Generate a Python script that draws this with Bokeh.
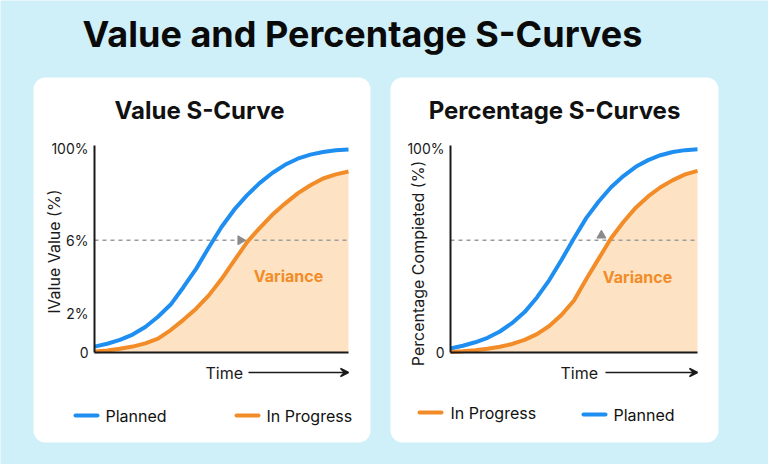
from math import pi
from bokeh.plotting import figure
from bokeh.models import Range1d, Label, BoxAnnotation, Arrow, VeeHead
from bokeh.core.properties import value
from bokeh.embed import file_html
from bokeh.resources import INLINE

# ---------------- data ----------------
time = [0.0, 0.5, 1.0, 1.5, 2.0, 2.5, 3.0, 3.5, 4.0, 4.5, 5.0,
        5.5, 6.0, 6.5, 7.0, 7.5, 8.0, 8.5, 9.0, 9.5, 10.0]

value_planned = [2.9, 4.3, 6.2, 8.8, 12.5, 17.5, 23.5, 32, 41, 51.5, 61.5,
                 70, 77, 83, 88, 92, 95, 97, 98.3, 99.1, 99.5]
value_in_progress = [0.5, 1.0, 1.8, 2.9, 4.5, 6.8, 11, 16, 21.5, 28, 36,
                     45, 54, 61, 67.5, 73, 78, 82, 85.3, 87.3, 88.7]

pct_planned = [2.0, 3.3, 5.0, 7.2, 10.3, 14.5, 19.8, 27, 35.5, 45.5, 56,
               66, 74, 81, 86.5, 91, 94.3, 96.7, 98.3, 99.2, 99.6]
pct_in_progress = [0.3, 0.6, 1.1, 1.8, 2.8, 4.2, 6.2, 9, 13, 18.5, 25.5,
                   36, 46, 56, 64, 71, 76.5, 81, 84.5, 87.3, 89.0]

value_ticks = [0, 19, 55, 100]
value_tick_labels = ["0", "2%", "6%", "100%"]
pct_ticks = [0, 100]
pct_tick_labels = ["0", "100%"]

reference_level = 55          # dashed line level (both charts)
value_marker_time = 5.75      # arrow marker on the dashed line
pct_marker_time = 6.11
pct_marker_level = 57.4

# ---------------- style ----------------
BG = "#cff0f9"
BLUE = "#1f8ef1"
ORANGE = "#f28c28"
FILL = "#fde3c3"
DARK = "#1a1a1a"
GREY = "#9c9c9c"
FONT = "Inter"

W, H = 768, 464
FT, FB = 148, 352  # chart frame top/bottom in page pixels

# page-pixel coordinate system for the whole canvas (y downwards)
p = figure(width=W, height=H, x_range=Range1d(0, W), y_range=Range1d(H, 0),
           output_backend="svg", toolbar_location=None,
           x_axis_location=None, y_axis_location=None, min_border=0,
           border_fill_color=BG, background_fill_color=BG, outline_line_color=None)
p.grid.visible = False

p.add_layout(Label(x=362, y=33, text="Value and Percentage S-Curves", text_align="center",
                   text_baseline="middle", text_font=FONT, text_font_style="bold",
                   text_font_size="36px", text_color="#0a0a0a"))


def chart(name, fl, fr, panel_l, panel_r, title, title_x, ylabel, ylabel_x, ylabel_y,
          planned, progress, ticks, tick_labels, marker, legend, time_x, var_xy):
    # data ranges for this chart: time 0..10 -> fl..fr px, value 0..100 -> FB..FT px
    sx = (fr - fl) / 10.0
    sy = (FB - FT) / 100.0
    xr, yr = name + "_x", name + "_y"
    p.extra_x_ranges[xr] = Range1d(-fl / sx, (W - fl) / sx)
    p.extra_y_ranges[yr] = Range1d((FB - H) / sy, FB / sy)
    kw = dict(x_range_name=xr, y_range_name=yr)

    # white rounded panel
    p.add_layout(BoxAnnotation(left=panel_l, right=panel_r, top=77, bottom=442,
                               fill_color="white", fill_alpha=1.0, line_color=None,
                               border_radius=12, level="underlay"))

    # curves
    p.varea(x=time, y1=0, y2=progress, fill_color=FILL, fill_alpha=1.0, **kw)
    p.line(x=[0, 10], y=[reference_level, reference_level], line_color=GREY,
           line_width=1.5, line_dash="4 4", **kw)
    p.line(x=time, y=planned, line_color=BLUE, line_width=4, **kw)
    p.line(x=time, y=progress, line_color=ORANGE, line_width=4, **kw)
    mx, my, mang = marker
    p.scatter(x=[mx], y=[my], marker="triangle", size=9, angle=mang,
              fill_color="#8a8a8a", line_color="#8a8a8a", **kw)

    # axes
    p.line(x=[0, 0], y=[0, 101.5], line_color=DARK, line_width=2, **kw)
    p.line(x=[0, 10], y=[0, 0], line_color=DARK, line_width=2, **kw)
    p.text(x=[0] * len(ticks), y=ticks, text=tick_labels, x_offset=-6,
           text_align="right", text_baseline="middle", text_font=value(FONT),
           text_font_size="14px", text_color=DARK, **kw)

    # titles / labels
    p.add_layout(Label(x=title_x, y=110, text=title, text_align="center",
                       text_baseline="middle", text_font=FONT, text_font_style="bold",
                       text_font_size="24px", text_color="#111111"))
    p.add_layout(Label(x=ylabel_x, y=ylabel_y, text=ylabel, angle=pi / 2,
                       text_align="center", text_baseline="middle", text_font=FONT,
                       text_font_size="16px", text_color=DARK))
    p.add_layout(Label(x=var_xy[0], y=var_xy[1], text="Variance", text_align="center",
                       text_baseline="middle", text_font=FONT, text_font_style="bold",
                       text_font_size="16px", text_color=ORANGE))

    # Time arrow
    tx0, ax0, ax1 = time_x
    p.add_layout(Label(x=tx0, y=372, text="Time", text_align="left",
                       text_baseline="middle", text_font=FONT, text_font_size="16px",
                       text_color=DARK))
    p.add_layout(Arrow(x_start=ax0, y_start=372, x_end=ax1, y_end=372,
                       line_color=DARK, line_width=1.5,
                       end=VeeHead(size=8, fill_color=DARK, line_color=DARK, line_width=1.5)))

    # legend
    for (bx, by, color, label, lx) in legend:
        p.add_layout(BoxAnnotation(left=bx, right=bx + 26, top=by - 2, bottom=by + 2,
                                   fill_color=color, fill_alpha=1.0, line_color=None,
                                   border_radius=2, level="annotation"))
        p.add_layout(Label(x=lx, y=by, text=label, text_align="left",
                           text_baseline="middle", text_font=FONT, text_font_size="16px",
                           text_color="#111111"))


chart("value", fl=94, fr=348, panel_l=33, panel_r=370,
      title="Value S-Curve", title_x=199, ylabel="lValue Value (%)",
      ylabel_x=53, ylabel_y=251,
      planned=value_planned, progress=value_in_progress,
      ticks=value_ticks, tick_labels=value_tick_labels,
      marker=(value_marker_time, reference_level, -pi / 2),
      legend=[(73, 415, BLUE, "Planned", 105), (234, 415, ORANGE, "In Progress", 266)],
      time_x=(205, 248, 348), var_xy=(288, 275))

chart("pct", fl=450, fr=697, panel_l=390, panel_r=718,
      title="Percentage S-Curves", title_x=554, ylabel="Percentage Compieted (%)",
      ylabel_x=417, ylabel_y=263,
      planned=pct_planned, progress=pct_in_progress,
      ticks=pct_ticks, tick_labels=pct_tick_labels,
      marker=(pct_marker_time, pct_marker_level, 0),
      legend=[(417, 412, ORANGE, "In Progress", 450), (581, 414, BLUE, "Planned", 613)],
      time_x=(560, 605, 697), var_xy=(637, 276))

open("out.html", "w").write(file_html(p, INLINE))
